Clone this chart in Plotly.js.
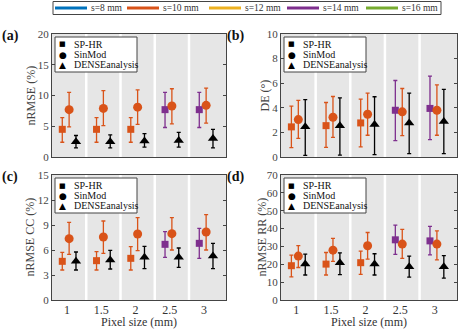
<!DOCTYPE html>
<html><head><meta charset="utf-8">
<script src="https://cdn.plot.ly/plotly-3.0.1.min.js"></script>
<style>html,body{margin:0;padding:0;background:#fff}#plot{width:474px;height:329px}</style>
</head><body><div id="plot"></div>
<script>
// ---------- data ----------
const pixelSizes = [1, 1.5, 2, 2.5, 3];
const xTickLabels = ['1', '1.5', '2', '2.5', '3'];
const sizes = [8, 10, 12, 14, 16];
const sizeLabels = ['s=8 mm', 's=10 mm', 's=12 mm', 's=14 mm', 's=16 mm'];
const methods = ['SP-HR', 'SinMod', 'DENSEanalysis'];
const methodGlyphs = ['■', '●', '▲'];
const xTitle = 'Pixel size (mm)';
const yTitles = ['nRMSE (%)', 'DE (°)', 'nRMSE CC (%)', 'nRMSE RR (%)'];
// optimal s (mm) per pixel size, per method
const spS = [10, 10, 10, 14, 14];
const smS = [10, 10, 10, 10, 10];

// (a) nRMSE (%)
const a_sp_mean = [4.5, 4.5, 4.5, 7.7, 7.7];
const a_sp_lo   = [2.4, 2.4, 2.4, 4.8, 4.8];
const a_sp_hi   = [6.4, 6.4, 6.4, 10.5, 10.5];
const a_sm_mean = [7.7, 7.9, 8.1, 8.3, 8.4];
const a_sm_lo   = [4.9, 5.1, 5.3, 5.4, 5.5];
const a_sm_hi   = [10.5, 10.8, 10.9, 11.1, 11.2];
const a_dn_mean = [2.5, 2.5, 2.6, 2.7, 3.0];
const a_dn_lo   = [1.5, 1.5, 1.6, 1.6, 1.5];
const a_dn_hi   = [3.5, 3.6, 3.8, 4.0, 4.5];

// (b) DE (deg)
const b_sp_mean = [2.45, 2.55, 2.77, 3.8, 3.95];
const b_sp_lo   = [0.76, 0.79, 0.82, 1.33, 1.41];
const b_sp_hi   = [4.13, 4.43, 4.70, 6.22, 6.58];
const b_sm_mean = [3.04, 3.23, 3.48, 3.67, 3.80];
const b_sm_lo   = [1.52, 1.60, 1.77, 1.74, 1.77];
const b_sm_hi   = [4.60, 4.92, 5.19, 5.57, 5.87];
const b_dn_mean = [2.45, 2.55, 2.64, 2.77, 2.88];
const b_dn_lo   = [0.14, 0.16, 0.20, 0.27, 0.27];
const b_dn_hi   = [4.67, 4.80, 4.90, 5.20, 5.49];

// (c) nRMSE CC (%)
const c_sp_mean = [4.64, 4.72, 5.0, 6.68, 6.8];
const c_sp_lo   = [3.6, 3.6, 3.6, 5.12, 5.0];
const c_sp_hi   = [5.72, 5.8, 6.4, 8.2, 8.6];
const c_sm_mean = [7.36, 7.56, 7.92, 7.96, 8.16];
const c_sm_lo   = [5.48, 5.6, 5.92, 6.0, 6.0];
const c_sm_hi   = [9.32, 9.48, 9.88, 9.88, 10.24];
const c_dn_mean = [4.64, 4.8, 5.12, 5.12, 5.28];
const c_dn_lo   = [3.6, 3.72, 3.76, 3.92, 3.76];
const c_dn_hi   = [5.76, 5.96, 6.44, 6.24, 6.8];

// (d) nRMSE RR (%)
const d_sp_mean = [19.2, 20.1, 20.9, 33.7, 33.1];
const d_sp_lo   = [13.0, 14.0, 14.3, 25.5, 25.3];
const d_sp_hi   = [25.1, 26.6, 27.4, 41.9, 41.2];
const d_sm_mean = [24.6, 27.9, 30.4, 31.3, 31.3];
const d_sm_lo   = [18.2, 21.6, 22.9, 23.3, 22.5];
const d_sm_hi   = [30.5, 34.5, 37.8, 39.5, 38.7];
const d_dn_mean = [20.1, 20.9, 20.1, 18.6, 18.6];
const d_dn_lo   = [14.0, 14.2, 14.0, 12.8, 12.3];
const d_dn_hi   = [25.7, 26.4, 25.9, 24.6, 24.8];

// ---------- styles ----------
const sColor = {8: '#0072BD', 10: '#D95319', 12: '#EDB120', 14: '#7E2F8E', 16: '#77AC30'};
const FONT = 'Liberation Serif';
const offsets = [-0.07, 0.03, 0.13];
const symbols = ['square', 'circle', 'triangle-up'];
const msizes = [7, 9, 9];

const panels = [
  {xa: 'x', ya: 'y', label: '(a)',
   data: [[a_sp_mean, a_sp_lo, a_sp_hi], [a_sm_mean, a_sm_lo, a_sm_hi], [a_dn_mean, a_dn_lo, a_dn_hi]]},
  {xa: 'x2', ya: 'y2', label: '(b)',
   data: [[b_sp_mean, b_sp_lo, b_sp_hi], [b_sm_mean, b_sm_lo, b_sm_hi], [b_dn_mean, b_dn_lo, b_dn_hi]]},
  {xa: 'x3', ya: 'y3', label: '(c)',
   data: [[c_sp_mean, c_sp_lo, c_sp_hi], [c_sm_mean, c_sm_lo, c_sm_hi], [c_dn_mean, c_dn_lo, c_dn_hi]]},
  {xa: 'x4', ya: 'y4', label: '(d)',
   data: [[d_sp_mean, d_sp_lo, d_sp_hi], [d_sm_mean, d_sm_lo, d_sm_hi], [d_dn_mean, d_dn_lo, d_dn_hi]]},
];

const traces = [];
panels.forEach(p => {
  p.data.forEach((d, m) => {
    const [mean, lo, hi] = d;
    let colors;
    if (m === 0) colors = spS.map(s => sColor[s]);
    else if (m === 1) colors = smS.map(s => sColor[s]);
    else colors = mean.map(() => '#000000');
    mean.forEach((v, i) => {
      traces.push({
        x: [pixelSizes[i] + offsets[m]], y: [v], type: 'scatter', mode: 'markers',
        xaxis: p.xa, yaxis: p.ya, showlegend: false, hoverinfo: 'skip',
        marker: {symbol: symbols[m], size: msizes[m], color: colors[i]},
        error_y: {type: 'data', symmetric: false, array: [hi[i] - v], arrayminus: [v - lo[i]],
                  color: colors[i], thickness: 1.3, width: 2}
      });
    });
  });
});

// ---------- layout ----------
const W = 474, H = 329;
const px = v => v / W, py = v => 1 - v / H;
const colL = [52, 226], colR = [281, 457];
const rowT = [34, 157], rowB = [175, 300];

function xax(c, anchor, showLabels) {
  return {domain: [px(c[0]), px(c[1])], anchor: anchor, range: [0.78, 3.32], tickvals: pixelSizes, ticktext: xTickLabels,
    showticklabels: showLabels, ticks: '', ticklabelstandoff: -1, showgrid: false, zeroline: false,
    showline: true, mirror: true, linecolor: '#444', linewidth: 1,
    tickfont: {family: FONT, size: 12, color: '#333'}};
}
function yax(r, anchor, range, dtick) {
  return {domain: [py(r[1]), py(r[0])], anchor: anchor, range: range, dtick: dtick, ticks: 'inside', ticklen: 3, tickcolor: '#444',
    ticklabelstandoff: 0,
    showgrid: false, zeroline: false, showline: true, mirror: 'ticks', linecolor: '#444', linewidth: 1,
    tickfont: {family: FONT, size: 11, color: '#444'}};
}

const shapes = [];
const annotations = [];
const grid = [[colL, rowT], [colR, rowT], [colL, rowB], [colR, rowB]];
const yTitleX = [30, 264, 29, 261];
panels.forEach((p, k) => {
  const [c, r] = grid[k];
  // grey background
  shapes.push({type: 'rect', xref: p.xa + ' domain', yref: p.ya + ' domain', x0: 0, x1: 1, y0: 0, y1: 1,
    fillcolor: '#e6e6e6', line: {width: 0}, layer: 'below'});
  // white separators between pixel-size groups
  pixelSizes.slice(0, -1).forEach((v, i) => {
    const mid = (v + pixelSizes[i + 1]) / 2 + 0.03;
    shapes.push({type: 'line', xref: p.xa, yref: p.ya + ' domain', x0: mid, x1: mid, y0: 0, y1: 1,
      line: {color: '#ffffff', width: 2.5}, layer: 'below'});
  });
  // y title
  annotations.push({text: yTitles[k], textangle: -90, x: px(yTitleX[k]), y: py((r[0] + r[1]) / 2), xref: 'paper', yref: 'paper',
    xanchor: 'center', yanchor: 'middle', showarrow: false, font: {family: FONT, size: 12, color: '#444'}});
  // x title (bottom row)
  if (k >= 2) {
    annotations.push({text: xTitle, x: px((c[0] + c[1]) / 2), y: py(322), xref: 'paper', yref: 'paper',
      xanchor: 'center', yanchor: 'middle', showarrow: false, font: {family: FONT, size: 12, color: '#333'}});
  }
  // inner legend
  const L = c[0], T = r[0];
  shapes.push({type: 'rect', xref: 'paper', yref: 'paper', x0: px(L + 3), x1: px(L + 85), y0: py(T + 38), y1: py(T + 3),
    fillcolor: '#ffffff', line: {color: '#444', width: 1}, layer: 'above'});
  methods.forEach((m, j) => {
    const yy = py(T + 10.5 + j * 10);
    annotations.push({text: methodGlyphs[j], x: px(L + 10.5), y: yy, xref: 'paper', yref: 'paper', xanchor: 'center', yanchor: 'middle',
      showarrow: false, font: {family: 'DejaVu Sans', size: j === 0 ? 7 : 9, color: '#000'}});
    annotations.push({text: m, x: px(L + 20), y: yy, xref: 'paper', yref: 'paper', xanchor: 'left', yanchor: 'middle',
      showarrow: false, font: {family: FONT, size: 10, color: '#111'}});
  });
  // panel label
  annotations.push({text: '<b>' + p.label + '</b>', x: px(c[0] - 52 + (k % 2 ? -4 : 0)), y: py(r[0] + 2), xref: 'paper', yref: 'paper',
    xanchor: 'left', yanchor: 'middle', showarrow: false, font: {family: FONT, size: 14, color: '#111'}});
});

// top colour legend
shapes.push({type: 'rect', xref: 'paper', yref: 'paper', x0: px(53), x1: px(441), y0: py(14.5), y1: py(1.5),
  fillcolor: '#ffffff', line: {color: '#444', width: 1}});
const legX = [55, 127, 209, 287, 366];
sizes.forEach((s, i) => {
  shapes.push({type: 'line', xref: 'paper', yref: 'paper', x0: px(legX[i]), x1: px(legX[i] + 32), y0: py(8), y1: py(8),
    line: {color: sColor[s], width: 3}});
  annotations.push({text: sizeLabels[i], x: px(legX[i] + 34), y: py(8), xref: 'paper', yref: 'paper', xanchor: 'left', yanchor: 'middle',
    showarrow: false, font: {family: FONT, size: 9.5, color: '#333'}});
});

const layout = {
  width: W, height: H, margin: {l: 0, r: 0, t: 0, b: 0},
  paper_bgcolor: '#ffffff', plot_bgcolor: 'rgba(0,0,0,0)', showlegend: false,
  font: {family: FONT, color: '#333'},
  xaxis: xax(colL, 'y', false), yaxis: yax(rowT, 'x', [0, 20], 5),
  xaxis2: xax(colR, 'y2', false), yaxis2: yax(rowT, 'x2', [0, 10], 2),
  xaxis3: xax(colL, 'y3', true), yaxis3: yax(rowB, 'x3', [0, 15], 3),
  xaxis4: xax(colR, 'y4', true), yaxis4: yax(rowB, 'x4', [0, 70], 10),
  shapes: shapes, annotations: annotations
};

Plotly.newPlot('plot', traces, layout, {staticPlot: true, displayModeBar: false});
</script></body></html>
